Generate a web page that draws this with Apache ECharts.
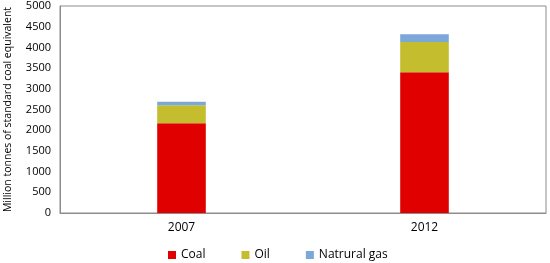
<!DOCTYPE html>
<html><head><meta charset="utf-8">
<script src="https://cdn.jsdelivr.net/npm/echarts@6/dist/echarts.min.js"></script>
<style>html,body{margin:0;padding:0;background:#fff}#c{width:550px;height:263px}</style>
</head><body><div id="c"></div>
<script>
const categories = ['2007', '2012'];
const coal = [2170, 3400];
const oil = [430, 730];
const gas = [90, 190];
const yTicks = [0, 500, 1000, 1500, 2000, 2500, 3000, 3500, 4000, 4500, 5000];

const chart = echarts.init(document.getElementById('c'));
const font = 'Open Sans';
chart.setOption({
  animation: false,
  grid: { left: 60, right: 4, top: 6, bottom: 50, containLabel: false, outerBoundsMode: 'none', show: true, borderColor: '#8c8c8c', borderWidth: 1 },
  legend: {
    top: 244, left: 163, itemWidth: 8, itemHeight: 8, itemGap: 36,
    icon: 'rect',
    textStyle: { fontFamily: font, fontSize: 12, color: '#000' },
    data: ['Coal', 'Oil', 'Natrural gas']
  },
  xAxis: {
    type: 'category', data: categories,
    axisLine: { lineStyle: { color: '#8c8c8c' } },
    axisTick: { show: false },
    axisLabel: { fontFamily: font, fontSize: 12, color: '#000', margin: 9 }
  },
  yAxis: {
    type: 'value', min: yTicks[0], max: yTicks[yTicks.length - 1], interval: 500,
    name: 'Million tonnes of standard coal equivalent', nameLocation: 'middle', nameGap: 46,
    nameTextStyle: { fontFamily: font, fontSize: 10.5, color: '#000' },
    axisLine: { show: true, lineStyle: { color: '#8c8c8c' } },
    axisTick: { show: false },
    splitLine: { show: false },
    axisLabel: { fontFamily: font, fontSize: 11, color: '#000', margin: 9, formatter: v => String(v) }
  },
  series: [
    { name: 'Coal', type: 'bar', stack: 't', data: coal, barWidth: '20%', itemStyle: { color: '#e00000' } },
    { name: 'Oil', type: 'bar', stack: 't', data: oil, itemStyle: { color: '#c4bd2e' } },
    { name: 'Natrural gas', type: 'bar', stack: 't', data: gas, itemStyle: { color: '#7ba7d9' } }
  ]
});
</script></body></html>
